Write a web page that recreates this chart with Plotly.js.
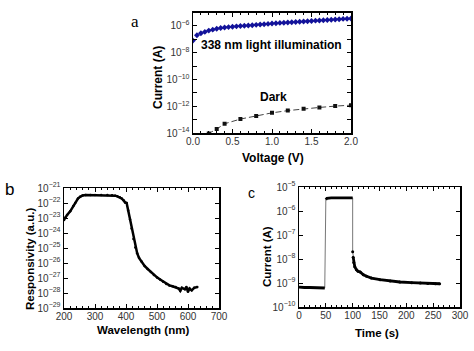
<!DOCTYPE html>
<html><head><meta charset="utf-8">
<script src="https://cdn.plot.ly/plotly-3.0.1.min.js"></script>
<style>html,body{margin:0;padding:0;background:#fff}#chart{width:474px;height:351px}</style>
</head><body><div id="chart"></div>
<script>
// Panel a: I-V
const voltIllum = [0,0.05,0.1,0.15,0.2,0.25,0.3,0.35,0.4,0.45,0.5,0.55,0.6,0.65,0.7,0.75,0.8,0.85,0.9,0.95,1.0,1.05,1.1,1.15,1.2,1.25,1.3,1.35,1.4,1.45,1.5,1.55,1.6,1.65,1.7,1.75,1.8,1.85,1.9,1.95,2.0];
const currIllum = [8.0e-8,2.0e-7,2.8e-7,3.55e-7,4.47e-7,5.25e-7,6.17e-7,6.9e-7,7.6e-7,8.1e-7,8.7e-7,9.3e-7,9.8e-7,1.02e-6,1.07e-6,1.12e-6,1.2e-6,1.26e-6,1.32e-6,1.41e-6,1.51e-6,1.58e-6,1.66e-6,1.7e-6,1.78e-6,1.86e-6,1.95e-6,2.04e-6,2.14e-6,2.24e-6,2.34e-6,2.45e-6,2.51e-6,2.63e-6,2.75e-6,2.88e-6,3.02e-6,3.16e-6,3.31e-6,3.39e-6,3.55e-6];
const voltDark = [0.1,0.2,0.3,0.4,0.6,0.8,1.0,1.2,1.4,1.6,1.8,2.0];
const currDark = [3e-15,9.3e-15,1.95e-14,4.9e-14,1.1e-13,1.9e-13,3.2e-13,4.7e-13,6.5e-13,8.1e-13,1.02e-12,1.2e-12];
// Panel b: responsivity spectrum
const wavelength = [200,205,210,220,230,236,245,252,260,270,285,300,320,340,355,365,372,380,386,392,397,402,407,413,418,424,430,436,442,450,460,470,480,490,500,510,520,530,540,550,560,570,575,580,590,595,600,605,612,620,630];
const responsivity = [7.4e-24,1.1e-23,1.6e-23,2.8e-23,6.3e-23,1.0e-22,2.0e-22,2.6e-22,3.2e-22,3.4e-22,3.4e-22,3.4e-22,3.4e-22,3.4e-22,3.3e-22,3.1e-22,2.8e-22,2.4e-22,2.0e-22,1.5e-22,1.1e-22,1.0e-22,3.2e-23,7.9e-24,2.0e-24,4.0e-25,1.1e-25,4.5e-26,2.2e-26,1.26e-26,6.3e-27,4.0e-27,2.5e-27,1.6e-27,1.1e-27,7.9e-28,5.6e-28,4.0e-28,3.2e-28,2.8e-28,2.5e-28,2.0e-28,1.4e-28,2.2e-28,1.8e-28,2.5e-28,1.2e-28,2.0e-28,1.5e-28,2.2e-28,2.5e-28];
// Panel c: transient response
const timeOff = [0,5,10,20,30,40,48];
const currOff = [6.8e-10,6.6e-10,6.5e-10,6.5e-10,6.4e-10,6.4e-10,6.2e-10];
const timeOn = [50,52,60,70,80,90,100];
const currOn = [3.0e-6,3.4e-6,3.5e-6,3.5e-6,3.5e-6,3.5e-6,3.5e-6];
const timeDecay = [100,101,102,104,107,110,114,120,126,135,151,170,188,210,226,240,254,262];
const currDecay = [2.0e-8,1.17e-8,7.1e-9,4.7e-9,3.6e-9,3.1e-9,2.9e-9,2.2e-9,1.9e-9,1.6e-9,1.38e-9,1.2e-9,1.1e-9,1.03e-9,1.0e-9,9.6e-10,9.3e-10,9.3e-10];

const yTicksA = ['−14','−13','−12','−11','−10','−9','−8','−7','−6'];
const yTicksB = ['−29','−28','−27','−26','−25','−24','−23','−22','−21'];
const yTicksC = ['−10','−9','−8','−7','−6','−5'];

function pw(arr, showEvery){ return arr.map((e,i)=> (i%showEvery===0) ? '10<sup>'+e+'</sup>' : ''); }
function vals(arr){ return arr.map(e=>Math.pow(10, parseFloat(e.replace('−','-')))); }

const tickFont = {family:'Liberation Sans, Arial, sans-serif', size:10, color:'#333'};
function xax(domain, range, dtick, minor, anchor, fmt){
  return {domain:domain, range:range, dtick:dtick, tick0:0, tickformat:fmt||'', showline:true, linecolor:'#000', linewidth:1.5,
    mirror:'ticks', ticks:'inside', ticklen:4, tickcolor:'#000', showgrid:false, zeroline:false, ticklabelstandoff:-2,
    tickfont:tickFont, anchor:anchor, minor:{ticks:'inside', ticklen:2, dtick:minor, tickcolor:'#000', showgrid:false}};
}
function yax(domain, range, labels, every, anchor){
  return {domain:domain, type:'log', range:range, tickmode:'array', tickvals:vals(labels), ticktext:pw(labels, every),
    showline:true, linecolor:'#000', linewidth:1.5, mirror:'ticks', ticks:'inside', ticklen:4, tickcolor:'#000',
    showgrid:false, zeroline:false, tickfont:tickFont, anchor:anchor};
}

// connector for panel c
const timeAll = timeOff.concat(timeOn, timeDecay);
const currAll = currOff.concat(currOn, currDecay);

const traces = [
  {x:voltIllum, y:currIllum, xaxis:'x', yaxis:'y', mode:'markers', marker:{symbol:'diamond', size:4.5, color:'#12129a'}},
  {x:voltDark, y:currDark, xaxis:'x', yaxis:'y', mode:'lines+markers', line:{color:'#444', width:1, dash:'6px,3px'}, marker:{symbol:'square', size:4, color:'#111'}},
  {x:wavelength, y:responsivity, xaxis:'x2', yaxis:'y2', mode:'lines+markers', line:{color:'#000', width:2.5}, marker:{size:2.5, color:'#000'}},
  {x:timeAll, y:currAll, xaxis:'x3', yaxis:'y3', mode:'lines', line:{color:'#777', width:1}},
  {x:timeOff, y:currOff, xaxis:'x3', yaxis:'y3', mode:'lines', line:{color:'#000', width:2.8}},
  {x:timeOn, y:currOn, xaxis:'x3', yaxis:'y3', mode:'lines', line:{color:'#000', width:2.8}},
  {x:timeDecay.slice(1), y:currDecay.slice(1), xaxis:'x3', yaxis:'y3', mode:'lines+markers', line:{color:'#000', width:2.8}, marker:{size:3,color:'#000'}},
  {x:[timeDecay[0]], y:[currDecay[0]], xaxis:'x3', yaxis:'y3', mode:'markers', marker:{size:3,color:'#000'}}
];

const bold = {family:'Liberation Sans, Arial, sans-serif', size:12, color:'#000', weight:'bold'};
const boldS = {family:'Liberation Sans, Arial, sans-serif', size:11.5, color:'#000', weight:'bold'};
function ann(text, x, y, font, angle){ return {text:text, x:x, y:y, xref:'paper', yref:'paper', showarrow:false, xanchor:'center', yanchor:'middle', font:font, textangle:angle||0}; }

const layout = {
  width:474, height:351, margin:{l:0,r:0,t:0,b:0}, showlegend:false,
  paper_bgcolor:'#fff', plot_bgcolor:'#fff',
  xaxis: xax([193/474, 351/474], [0, 2.0], 0.5, 0.1, 'y', '.1f'),
  yaxis: yax([1-133/351, 1-12.5/351], [-14, -5], yTicksA, 2, 'x'),
  xaxis2: xax([64/474, 219/474], [200, 700], 100, 20, 'y2'),
  yaxis2: yax([1-308/351, 1-188/351], [-29, -21], yTicksB, 1, 'x2'),
  xaxis3: xax([299/474, 460/474], [0, 300], 50, 10, 'y3'),
  yaxis3: yax([1-307/351, 1-187/351], [-10, -5], yTicksC, 1, 'x3'),
  annotations: [
    ann('a', 135/474, 1-21/351, {family:'Liberation Serif, Times New Roman, serif', size:17, color:'#000'}),
    ann('b', 9/474, 1-189/351, {family:'Liberation Sans, Arial, sans-serif', size:17, color:'#000'}),
    ann('c', 251/474, 1-193/351, {family:'Liberation Sans, Arial, sans-serif', size:14, color:'#000'}),
    ann('Current (A)', 158/474, 1-78/351, bold, -90),
    ann('Voltage (V)', 273/474, 1-158/351, bold),
    ann('338 nm light illumination', 271.5/474, 1-45/351, bold),
    ann('Dark', 273.5/474, 1-97/351, bold),
    ann('Responsivity (a.u.)', 30/474, 1-259/351, boldS, -90),
    ann('Wavelength (nm)', 143/474, 1-330/351, boldS),
    ann('Current (A)', 267/474, 1-257/351, boldS, -90),
    ann('Time (s)', 377/474, 1-333/351, boldS)
  ]
};
Plotly.newPlot('chart', traces, layout, {staticPlot:true, displayModeBar:false});
</script></body></html>
